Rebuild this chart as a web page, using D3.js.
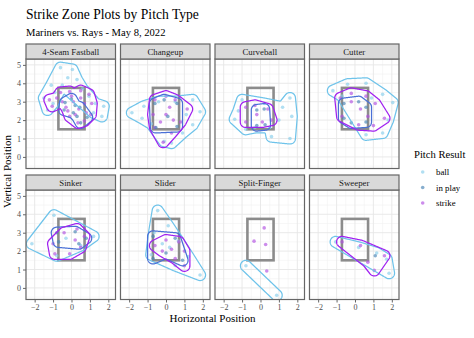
<!DOCTYPE html>
<html><head><meta charset="utf-8">
<script src="https://cdn.jsdelivr.net/npm/d3@7"></script>
<style>
body{margin:0;background:#fff}
text{font-family:"Liberation Serif","Times New Roman",serif}
</style>
</head><body>
<svg id="c" width="474" height="338"></svg>
<script>
// ---------- data ----------
const pitchTypes = ["4-Seam Fastball","Changeup","Curveball","Cutter","Sinker","Slider","Split-Finger","Sweeper"];
const results = ["ball","in play","strike"];
const xTicks = [-2,-1,0,1,2];
const yTicks = [0,1,2,3,4,5];
const zoneX = [-0.71, 0.71];
const zoneY = [1.5, 3.75];
const noHull = [["Split-Finger","strike"],["Sweeper","in play"]];

// [result, horizontal, vertical]
const fourSeamFastball = [
 ["ball",-1.5,3.2],["ball",-1.3,2.55],["ball",-1.1,3.9],["ball",-0.6,4.85],["ball",0.05,4.75],["ball",0.3,4.2],
 ["ball",0.95,3.3],["ball",1.75,2.75],["ball",1.65,2.2],["ball",1.2,2.4],["ball",-0.2,4.3],["ball",-0.9,3.5],
 ["ball",-0.5,3.9],["ball",0.6,3.7],["ball",-1.0,2.9],["ball",1.3,2.9],
 ["strike",-1.2,3.1],["strike",-1.05,2.75],["strike",-0.6,3.5],["strike",-0.1,3.55],["strike",0.5,3.6],["strike",0.95,3.4],
 ["strike",1.1,2.9],["strike",1.05,2.3],["strike",0.7,1.95],["strike",0.35,1.85],["strike",-0.1,2.2],["strike",-0.3,2.7],
 ["strike",0.1,3.0],["strike",0.4,2.6],["strike",-0.5,3.0],["strike",0.7,2.9],["strike",0.2,2.3],["strike",0.0,3.3],
 ["strike",0.5,3.2],["strike",-0.2,2.5],["strike",0.8,2.4],["strike",-0.8,3.2],
 ["in play",-0.35,2.95],["in play",0.0,3.15],["in play",0.45,2.7],["in play",0.85,2.15],["in play",0.5,1.85],
 ["in play",0.1,2.4],["in play",-0.4,2.55],["in play",0.2,2.8],["in play",0.3,2.2]
];
const changeup = [
 ["ball",-1.85,2.4],["ball",-1.3,2.1],["ball",-0.8,1.8],["ball",-0.1,0.85],["ball",0.3,0.75],["ball",0.9,1.3],
 ["ball",1.45,1.75],["ball",1.85,2.45],["ball",1.45,3.1],["ball",0.5,3.0],["ball",-0.4,3.0],["ball",-1.2,2.75],["ball",1.1,2.3],
 ["strike",-0.6,3.1],["strike",0.0,3.3],["strike",0.5,3.1],["strike",1.15,2.6],["strike",0.8,1.9],["strike",0.3,1.3],
 ["strike",-0.15,0.8],["strike",-0.6,1.6],["strike",-0.7,2.3],["strike",0.0,2.3],["strike",0.2,2.7],["strike",-0.3,1.9],["strike",0.4,2.0],
 ["in play",-0.6,2.9],["in play",-0.1,3.1],["in play",0.6,2.9],["in play",0.6,1.65],["in play",-0.55,1.6],["in play",0.1,2.2]
];
const curveball = [
 ["ball",-1.4,2.05],["ball",-1.0,3.1],["ball",1.6,3.2],["ball",1.7,2.2],["ball",1.6,1.0],["ball",0.6,1.1],["ball",-0.8,1.5],
 ["ball",0.2,2.9],["ball",1.0,2.0],["ball",-0.3,1.6],["ball",1.2,2.7],["ball",0.5,1.6],["ball",-1.2,2.5],
 ["strike",-0.8,2.7],["strike",-0.3,2.8],["strike",0.4,2.6],["strike",0.6,2.0],["strike",0.1,1.9],["strike",-0.8,1.9],["strike",-0.2,2.3],
 ["in play",-0.2,2.55],["in play",0.2,2.6],["in play",0.25,1.75],["in play",-0.2,1.7]
];
const cutter = [
 ["ball",-1.2,3.6],["ball",-0.4,3.95],["ball",0.6,4.0],["ball",1.5,3.4],["ball",2.05,2.95],["ball",1.5,1.3],
 ["ball",0.6,1.2],["ball",-0.7,3.3],["ball",1.8,2.0],["ball",0.9,3.2],
 ["strike",-0.8,3.2],["strike",-0.2,3.45],["strike",0.6,3.3],["strike",1.1,2.9],["strike",1.6,2.1],["strike",1.0,1.7],
 ["strike",0.2,1.75],["strike",-0.7,2.2],["strike",0.3,2.6],["strike",-0.2,3.0],["strike",0.7,2.2],
 ["in play",-0.6,2.9],["in play",0.2,3.0],["in play",0.6,2.7],["in play",0.6,1.9],["in play",-0.2,1.85],["in play",-0.6,2.1]
];
const sinker = [
 ["ball",-0.95,3.95],["ball",-2.15,2.4],["ball",1.2,2.8],["ball",-0.8,1.75],["ball",0.5,2.3],["ball",-0.3,2.7],
 ["strike",-0.4,3.0],["strike",0.3,3.2],["strike",0.7,2.8],["strike",0.5,2.2],["strike",-0.1,1.85],["strike",-0.9,1.85],
 ["strike",-1.0,2.4],["strike",0.2,2.6],
 ["in play",-0.8,3.0],["in play",0.2,3.05],["in play",0.8,2.7],["in play",0.4,2.4],["in play",-0.7,2.5]
];
const slider = [
 ["ball",-0.45,4.2],["ball",-0.65,3.0],["ball",-0.8,1.8],["ball",0.5,1.22],["ball",1.85,0.7],["ball",1.22,1.7],
 ["ball",0.67,2.55],["ball",0.12,3.38],["ball",0.2,2.2],["ball",-0.2,2.4],
 ["strike",-0.6,2.3],["strike",0.0,2.6],["strike",0.7,2.5],["strike",1.0,2.0],["strike",1.0,1.2],["strike",0.5,1.6],
 ["strike",-0.2,2.0],["strike",0.3,2.1],
 ["in play",-0.7,2.8],["in play",0.5,2.7],["in play",0.9,1.5],["in play",-0.7,1.6],["in play",0.0,1.9]
];
const splitFinger = [
 ["ball",-0.79,1.2],["ball",0.88,-0.4],
 ["strike",0.2,3.26],["strike",-0.35,2.54],["strike",0.28,2.36],["strike",0.34,0.92]
];
const sweeper = [
 ["ball",-1.05,2.5],["ball",1.18,1.9],["ball",1.72,1.56],["ball",1.85,0.8],["ball",0.2,2.2],
 ["strike",-0.7,2.5],["strike",0.3,2.3],["strike",1.6,1.75],["strike",1.05,0.95],["strike",0.7,1.4],
 ["in play",1.1,1.75]
];
const pitchData = [fourSeamFastball, changeup, curveball, cutter, sinker, slider, splitFinger, sweeper];

// ---------- styles ----------
const pointColor = {"ball":"#87CEEB","in play":"#4682B4","strike":"#B04EE0"};
const hullColor = {"ball":"#6EC3EA","in play":"#4A70D6","strike":"#A020F0"};

// ---------- layout ----------
const svg = d3.select("#c");
const colX = [26, 120.5, 215, 309.5];
const rowY = [59, 190];
const pw = 89.5, ph = 109.5, stripH = 15;

const x = d3.scaleLinear().domain([-2.47, 2.39]).range([0, pw]);
const y = d3.scaleLinear().domain([-0.63, 5.32]).range([ph, 0]);

svg.append("text").attr("x",26).attr("y",19).attr("font-size",13.6).attr("fill","#000")
  .text("Strike Zone Plots by Pitch Type");
svg.append("text").attr("x",26).attr("y",36).attr("font-size",10.6).attr("fill","#000")
  .text("Mariners vs. Rays - May 8, 2022");

// ---------- concave hull (concaveman-like) + buffered outline via d3.contours ----------
const hullR = 5.5, concavity = 2;
const dist = (a,b)=>Math.hypot(a[0]-b[0],a[1]-b[1]);
function segDist(p,a,b){
  const dx=b[0]-a[0], dy=b[1]-a[1], l2=dx*dx+dy*dy;
  let t = l2 ? ((p[0]-a[0])*dx+(p[1]-a[1])*dy)/l2 : 0;
  t = Math.max(0,Math.min(1,t));
  return Math.hypot(p[0]-(a[0]+t*dx), p[1]-(a[1]+t*dy));
}
function cross(o,a,b){return (a[0]-o[0])*(b[1]-o[1])-(a[1]-o[1])*(b[0]-o[0]);}
function segInter(p1,p2,p3,p4){
  if(p1===p3||p1===p4||p2===p3||p2===p4) return false;
  const d1=cross(p3,p4,p1), d2=cross(p3,p4,p2), d3_=cross(p1,p2,p3), d4=cross(p1,p2,p4);
  return ((d1>0&&d2<0)||(d1<0&&d2>0)) && ((d3_>0&&d4<0)||(d3_<0&&d4>0));
}
function concaveHull(pts){
  if(pts.length<3) return pts.slice();
  const hull = d3.polygonHull(pts);
  const inner = pts.filter(p=>!hull.includes(p));
  let guard = 0, i = 0;
  while(i < hull.length && guard < 500){
    guard++;
    const n = hull.length;
    const a = hull[i], b = hull[(i+1)%n];
    const prev = hull[(i-1+n)%n], next = hull[(i+2)%n];
    const len = dist(a,b);
    let best=null, bd=Infinity;
    inner.forEach(p=>{
      const d = segDist(p,a,b);
      if(d < bd && d <= len/concavity && d < segDist(p,prev,a) && d < segDist(p,b,next)){ bd=d; best=p; }
    });
    if(best && Math.min(dist(best,a),dist(best,b)) <= len/concavity){
      let ok = true;
      for(let k=0;k<n && ok;k++){
        if(k===i) continue;
        const e1=hull[k], e2=hull[(k+1)%n];
        if(segInter(a,best,e1,e2)||segInter(best,b,e1,e2)) ok=false;
      }
      if(ok){
        hull.splice(i+1,0,best);
        inner.splice(inner.indexOf(best),1);
        continue;
      }
    }
    i++;
  }
  return hull;
}
const cell = 0.5, margin = 9;
const nx = Math.ceil((pw+2*margin)/cell), ny = Math.ceil((ph+2*margin)/cell);
const contourGen = d3.contours().size([nx,ny]).thresholds([0]);
const toPx = d3.geoPath(d3.geoIdentity().scale(cell).translate([-margin,-margin]));
function bufferPath(poly){
  const values = new Float64Array(nx*ny);
  const closed = poly.length>=3;
  for(let j=0;j<ny;j++){
    const py = -margin + (j+0.5)*cell;
    for(let i=0;i<nx;i++){
      const px = -margin + (i+0.5)*cell;
      const p=[px,py];
      let d = Infinity;
      if(poly.length===1) d = dist(p,poly[0]);
      else {
        const m = closed ? poly.length : poly.length-1;
        for(let k=0;k<m;k++){ const dd = segDist(p,poly[k],poly[(k+1)%poly.length]); if(dd<d) d=dd; }
        if(closed && d3.polygonContains(poly,p)) d = 0;
      }
      values[j*nx+i] = hullR - d;
    }
  }
  return toPx(contourGen(values)[0]);
}

pitchTypes.forEach((pt,i)=>{
  const c = i%4, r = Math.floor(i/4);
  const g = svg.append("g").attr("transform",`translate(${colX[c]},${rowY[r]})`);
  const minorX = d3.range(-2.5,2.5,0.5).filter(v=>v%1!==0);
  const minorY = d3.range(-0.5,5.5,0.5).filter(v=>v%1!==0);
  g.append("rect").attr("width",pw).attr("height",ph).attr("fill","#fff");
  g.selectAll(".mx").data(minorX).join("line").attr("x1",d=>x(d)).attr("x2",d=>x(d)).attr("y1",0).attr("y2",ph)
    .attr("stroke","#F2F2F2").attr("stroke-width",0.6);
  g.selectAll(".my").data(minorY).join("line").attr("y1",d=>y(d)).attr("y2",d=>y(d)).attr("x1",0).attr("x2",pw)
    .attr("stroke","#F2F2F2").attr("stroke-width",0.6);
  g.selectAll(".gx").data(xTicks).join("line").attr("x1",d=>x(d)).attr("x2",d=>x(d)).attr("y1",0).attr("y2",ph)
    .attr("stroke","#E6E6E6").attr("stroke-width",0.9);
  g.selectAll(".gy").data(yTicks).join("line").attr("y1",d=>y(d)).attr("y2",d=>y(d)).attr("x1",0).attr("x2",pw)
    .attr("stroke","#E6E6E6").attr("stroke-width",0.9);

  const clipId = "clip"+i;
  g.append("clipPath").attr("id",clipId).append("rect").attr("width",pw).attr("height",ph);
  const inner = g.append("g").attr("clip-path",`url(#${clipId})`);

  inner.append("rect").attr("x",x(zoneX[0])).attr("y",y(zoneY[1]))
    .attr("width",x(zoneX[1])-x(zoneX[0])).attr("height",y(zoneY[0])-y(zoneY[1]))
    .attr("fill","none").attr("stroke","#8C8C8C").attr("stroke-width",2.6);

  const data = pitchData[i];
  inner.selectAll("circle").data(data).join("circle")
    .attr("cx",d=>x(d[1])).attr("cy",d=>y(d[2])).attr("r",1.8)
    .attr("fill",d=>pointColor[d[0]]).attr("fill-opacity",0.65);
  results.forEach(res=>{
    if(noHull.some(n=>n[0]===pt && n[1]===res)) return;
    const pts = data.filter(d=>d[0]===res).map(d=>[x(d[1]),y(d[2])]);
    if(!pts.length) return;
    const poly = concaveHull(pts);
    inner.append("path").attr("d",bufferPath(poly)).attr("fill","none")
      .attr("stroke",hullColor[res]).attr("stroke-width",1.25).attr("stroke-linejoin","round");
  });

  g.append("rect").attr("width",pw).attr("height",ph).attr("fill","none").attr("stroke","#666").attr("stroke-width",1.2);
  g.append("rect").attr("y",-stripH).attr("width",pw).attr("height",stripH)
    .attr("fill","#D9D9D9").attr("stroke","#666").attr("stroke-width",1.2);
  g.append("text").attr("x",pw/2).attr("y",-stripH/2+3.2).attr("text-anchor","middle")
    .attr("font-size",8.8).attr("fill","#1a1a1a").text(pt);

  if(r===1){
    const ax = g.append("g").attr("transform",`translate(0,${ph})`).call(d3.axisBottom(x).tickValues(xTicks).tickSize(3).tickPadding(2).tickFormat(d3.format("d")));
    ax.select(".domain").remove();
    ax.selectAll("line").attr("stroke","#666");
    ax.selectAll("text").attr("font-size",8).attr("fill","#4d4d4d").attr("font-family","Liberation Serif, serif");
  }
  if(c===0){
    const ay = g.append("g").call(d3.axisLeft(y).tickValues(yTicks).tickSize(3).tickPadding(2).tickFormat(d3.format("d")));
    ay.select(".domain").remove();
    ay.selectAll("line").attr("stroke","#666");
    ay.selectAll("text").attr("font-size",8).attr("fill","#4d4d4d").attr("font-family","Liberation Serif, serif");
  }
});

svg.append("text").attr("x",(colX[0]+colX[3]+pw)/2).attr("y",322).attr("text-anchor","middle")
  .attr("font-size",11).attr("fill","#000").text("Horizontal Position");
svg.append("text").attr("transform",`translate(11,${(44+299)/2}) rotate(-90)`).attr("text-anchor","middle")
  .attr("font-size",11).attr("fill","#000").text("Vertical Position");

const lg = svg.append("g");
lg.append("text").attr("x",414).attr("y",158).attr("font-size",10.6).attr("fill","#000").text("Pitch Result");
results.forEach((res,k)=>{
  const cy = 172 + k*15.5;
  lg.append("circle").attr("cx",422.7).attr("cy",cy).attr("r",1.8).attr("fill",pointColor[res]).attr("fill-opacity",0.65);
  lg.append("text").attr("x",436).attr("y",cy+3).attr("font-size",8.8).attr("fill","#000").text(res);
});
</script>
</body></html>
